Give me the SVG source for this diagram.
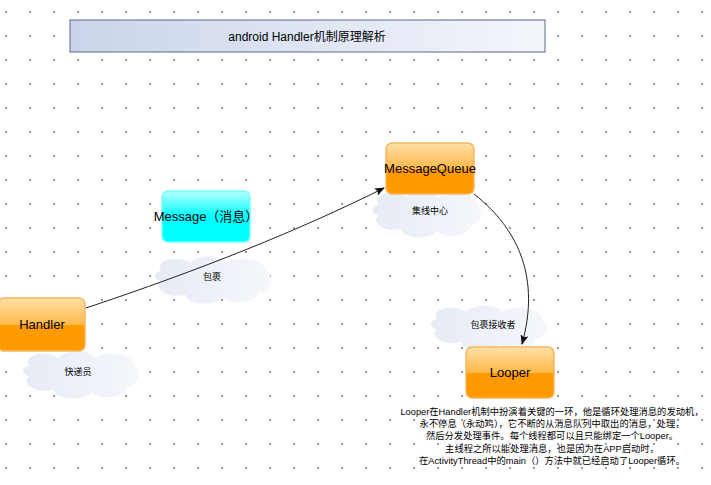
<svg xmlns="http://www.w3.org/2000/svg" width="711" height="485" viewBox="0 0 711 485">
<style>
.t{font-family:"Liberation Sans","Noto Sans CJK SC",sans-serif;text-anchor:middle;fill:#000}
.n{font-size:13px}
.s{font-size:9px}
.d{font-size:9.3px}
.orange{fill:url(#og);stroke:#f5b860;stroke-width:1.5}
.cloud{fill:url(#cg)}
.c{fill:none;stroke:#222;stroke-width:1}
</style>
<defs>
<pattern id="grid" x="0" y="0" width="24" height="24" patternUnits="userSpaceOnUse">
<path d="M5 12h2M6 11v2" stroke="#777" stroke-width="1"/>
</pattern>
<linearGradient id="tg" x1="0" y1="0" x2="1" y2="0"><stop offset="0" stop-color="#c9d4ea"/><stop offset="1" stop-color="#f4f6fb"/></linearGradient>
<linearGradient id="og" x1="0" y1="0" x2="0" y2="1"><stop offset="0" stop-color="#ffe0a8"/><stop offset="0.5" stop-color="#ffb84a"/><stop offset="0.52" stop-color="#ff9a00"/><stop offset="1" stop-color="#ff9a00"/></linearGradient>
<linearGradient id="cy" x1="0" y1="0" x2="0" y2="1"><stop offset="0" stop-color="#b8ffff"/><stop offset="0.5" stop-color="#00ffff"/><stop offset="1" stop-color="#00ffff"/></linearGradient>
<linearGradient id="cg" x1="0" y1="0" x2="1" y2="0"><stop offset="0" stop-color="#e6ebf5"/><stop offset="1" stop-color="#f5f7fb"/></linearGradient>
<marker id="ar" markerWidth="10" markerHeight="8" refX="9" refY="4" orient="auto" markerUnits="userSpaceOnUse"><path d="M0 0L10 4L0 8L2 4z" fill="#111"/></marker>
<g id="cl"><path class="cloud" d="M8 10c-6-10 18-12 26-6c8-8 30-6 32 0c10-6 36-4 36 6c8 4 4 16-6 16c-4 10-26 10-32 4c-8 8-34 6-34-2c-14 4-30-4-22-10c-8-2-6-8 0-8z"/></g>
</defs>
<rect width="711" height="485" fill="#fff"/>
<rect width="711" height="485" fill="url(#grid)"/>
<g id="title"><rect x="70" y="20" width="475" height="32" fill="url(#tg)" stroke="#5a6a8a"/><text class="t" font-size="12" x="307" y="41">android Handler机制原理解析</text></g>
<g id="clouds">
<use href="#cl" transform="translate(370,192) scale(1.05,1.3)"/>
<use href="#cl" transform="translate(152,258) scale(1.12,1.3)"/>
<use href="#cl" transform="translate(20,353) scale(1.12,1.3)"/>
<use href="#cl" transform="translate(428,307) scale(1.12,1.25)"/>
</g>
<g id="connectors">
<path class="c" d="M86 308C200 270 300 230 384 188" marker-end="url(#ar)"/>
<path class="c" d="M474 194C520 230 540 280 522 344" marker-end="url(#ar)"/>
</g>
<g id="mq"><rect class="orange" x="386" y="143" width="88" height="51" rx="6"/><text class="t n" x="430" y="173">MessageQueue</text><text class="t s" x="430" y="214">集线中心</text></g>
<g id="msg"><rect x="162" y="191" width="88" height="51" rx="6" fill="url(#cy)" stroke="#7ff" stroke-width="1.5"/><text class="t n" x="206" y="221">Message（消息）</text></g>
<g id="pkg"><text class="t s" x="212" y="280">包裹</text></g>
<g id="handler"><rect class="orange" x="-2" y="298" width="87" height="53" rx="6"/><text class="t n" x="42" y="329">Handler</text><text class="t s" x="78" y="375">快递员</text></g>
<g id="recv"><text class="t s" x="493" y="328">包裹接收者</text></g>
<g id="looper"><rect class="orange" x="466" y="347" width="88" height="51" rx="6"/><text class="t n" x="510" y="377">Looper</text></g>
<g id="desc" class="t d">
<text x="552" y="415">Looper在Handler机制中扮演着关键的一环，他是循环处理消息的发动机，</text>
<text x="552" y="427">永不停息（永动鸡），它不断的从消息队列中取出的消息，处理，</text>
<text x="552" y="439">然后分发处理事件。每个线程都可以且只能绑定一个Looper。</text>
<text x="552" y="452">主线程之所以能处理消息，也是因为在APP启动时，</text>
<text x="552" y="464">在ActivityThread中的main（）方法中就已经启动了Looper循环。</text>
</g>
</svg>
